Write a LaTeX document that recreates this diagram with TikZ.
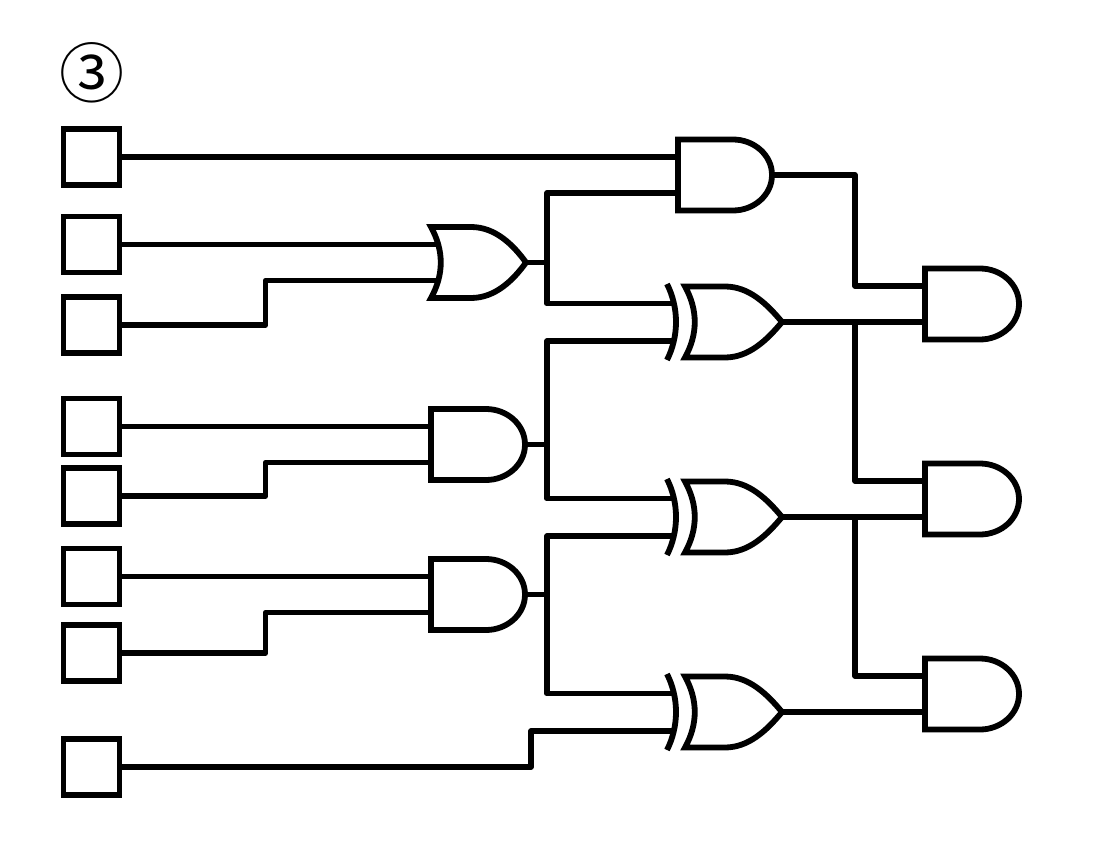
\documentclass[tikz,border=0pt]{standalone}
\usepackage{fontspec}
\newfontfamily\numfont{Noto Sans CJK JP}
\usepackage{tikz}

\tikzset{
	gateline/.style={black,line width=3.3pt,line join=miter},
	andgate/.pic={
		\draw [gateline] (0,-35.5) -- (55,-35.5) .. controls (76,-35.5) and (94,-20) .. (94,0) .. controls (94,20) and (76,35.5) .. (55,35.5) -- (0,35.5) -- cycle;
		\coordinate (-in1) at (0,-18);
		\coordinate (-in2) at (0,18);
		\coordinate (-out) at (94,0);
	},
	orgate/.pic={
		\draw [gateline] (0,-35.5) -- (40,-35.5) .. controls (64,-35.5) and (82,-18) .. (95,0) .. controls (82,18) and (64,35.5) .. (40,35.5) -- (0,35.5) .. controls (13,12) and (13,-12) .. (0,-35.5) -- cycle;
		\coordinate (-in1) at (8,-18);
		\coordinate (-in2) at (8,18);
		\coordinate (-out) at (95,0);
	},
	xorgate/.pic={
		\draw [gateline] (0,-35.5) -- (40,-35.5) .. controls (64,-35.5) and (82,-18) .. (97,0) .. controls (82,18) and (64,35.5) .. (40,35.5) -- (0,35.5) .. controls (13,12) and (13,-12) .. (0,-35.5) -- cycle;
		\draw [gateline] (-18,-38) .. controls (-6,-14) and (-6,14) .. (-18,38);
		\coordinate (-in1) at (-10,-18.5);
		\coordinate (-in2) at (-10,19);
		\coordinate (-out) at (97,0);
	}
}

\begin{document}
\begin{tikzpicture}[x=0.02cm,y=-0.02cm]
		\tikzstyle{inbox}=[draw=black,line width=3.3pt,minimum size=1.12cm,inner sep=0pt,outer sep=0pt]
		\tikzstyle{wire}=[black,line width=3.3pt,line join=round]
		\useasboundingbox (0,0) rectangle (1118,858);
		\node (num) at (92,73) {\numfont\fontsize{37}{37}\selectfont ③};
		\node [inbox] (in1) at (91.5,157) {};
		\node [inbox] (in2) at (91.5,244.5) {};
		\node [inbox] (in3) at (91.5,325) {};
		\node [inbox] (in4) at (91.5,426.5) {};
		\node [inbox] (in5) at (91.5,496) {};
		\node [inbox] (in6) at (91.5,576.5) {};
		\node [inbox] (in7) at (91.5,653) {};
		\node [inbox] (in8) at (91.5,767) {};
		\pic (o1) at (431,262.5) {orgate};
		\pic (a1) at (431,444.5) {andgate};
		\pic (a2) at (431,594.5) {andgate};
		\pic (a3) at (678,175) {andgate};
		\pic (x1) at (685,322) {xorgate};
		\pic (x2) at (685,517) {xorgate};
		\pic (x3) at (685,712) {xorgate};
		\pic (a4) at (925,304) {andgate};
		\pic (a5) at (925,499) {andgate};
		\pic (a6) at (925,694) {andgate};
		\coordinate (j1) at (855,322);
		\coordinate (j2) at (855,517);
		\coordinate (j3) at (547,262.5);
		\coordinate (j4) at (547,444.5);
		\coordinate (j5) at (547,594.5);
		\coordinate (j6) at (531,731);
		\draw [wire] (in1.east) -- (a3-in1);
		\draw [wire] (in2.east) -- (o1-in1);
		\draw [wire] (in3.east) -- ++(146,0) |- (o1-in2);
		\draw [wire] (in4.east) -- (a1-in1);
		\draw [wire] (in5.east) -- ++(146,0) |- (a1-in2);
		\draw [wire] (in6.east) -- (a2-in1);
		\draw [wire] (in7.east) -- ++(146,0) |- (a2-in2);
		\draw [wire] (in8.east) -| (j6) -- (x3-in2);
		\draw [wire] (o1-out) -- (j3);
		\draw [wire] (a3-in2) -| (j3) |- (x1-in1);
		\draw [wire] (a1-out) -- (j4);
		\draw [wire] (x1-in2) -| (j4) |- (x2-in1);
		\draw [wire] (a2-out) -- (j5);
		\draw [wire] (x2-in2) -| (j5) |- (x3-in1);
		\draw [wire] (a3-out) -| (j1 |- a4-in1) -- (a4-in1);
		\draw [wire] (x1-out) -- (a4-in2);
		\draw [wire] (j1) |- (a5-in1);
		\draw [wire] (x2-out) -- (a5-in2);
		\draw [wire] (j2) |- (a6-in1);
		\draw [wire] (x3-out) -- (a6-in2);
	\end{tikzpicture}
\end{document}
